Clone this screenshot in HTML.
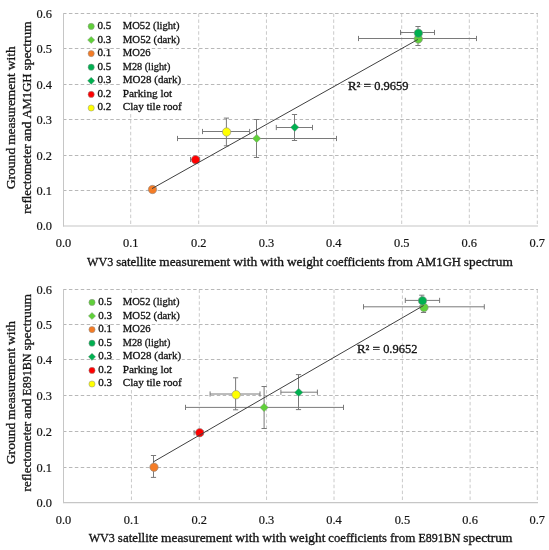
<!DOCTYPE html>
<html><head><meta charset="utf-8"><title>Chart</title>
<style>html,body{margin:0;padding:0;background:#fff;}svg{display:block;}</style></head>
<body><svg width="549" height="550" viewBox="0 0 549 550" font-family="'Liberation Serif', 'DejaVu Serif', serif">
<style>text{fill:#141414;stroke:#141414;stroke-width:0.32px;}text.tk{stroke-width:0.2px;}</style>
<rect width="549" height="550" fill="#fff"/>
<line x1="130.7" y1="13.5" x2="130.7" y2="226" stroke="#cacaca" stroke-dasharray="3.5 2.415"/>
<line x1="198.7" y1="13.5" x2="198.7" y2="226" stroke="#cacaca" stroke-dasharray="3.5 2.415"/>
<line x1="266.45" y1="13.5" x2="266.45" y2="226" stroke="#cacaca" stroke-dasharray="3.5 2.415"/>
<line x1="333.7" y1="13.5" x2="333.7" y2="226" stroke="#cacaca" stroke-dasharray="3.5 2.415"/>
<line x1="401.7" y1="13.5" x2="401.7" y2="226" stroke="#cacaca" stroke-dasharray="3.5 2.415"/>
<line x1="469.3" y1="13.5" x2="469.3" y2="226" stroke="#cacaca" stroke-dasharray="3.5 2.415"/>
<line x1="537.3" y1="13.5" x2="537.3" y2="226" stroke="#cacaca" stroke-dasharray="3.5 2.415"/>
<line x1="63" y1="190.5" x2="538" y2="190.5" stroke="#b8b8b8" stroke-dasharray="3.5 2.415"/>
<line x1="63" y1="155.5" x2="538" y2="155.5" stroke="#b8b8b8" stroke-dasharray="3.5 2.415"/>
<line x1="63" y1="119.5" x2="538" y2="119.5" stroke="#b8b8b8" stroke-dasharray="3.5 2.415"/>
<line x1="63" y1="84.5" x2="538" y2="84.5" stroke="#b8b8b8" stroke-dasharray="3.5 2.415"/>
<line x1="63" y1="48.5" x2="538" y2="48.5" stroke="#b8b8b8" stroke-dasharray="3.5 2.415"/>
<line x1="63" y1="13.5" x2="538" y2="13.5" stroke="#b8b8b8" stroke-dasharray="3.5 2.415"/>
<line x1="63.5" y1="13" x2="63.5" y2="226.5" stroke="#c6c6c6"/>
<line x1="63" y1="226" x2="538" y2="226" stroke="#c6c6c6" stroke-width="1.15"/>
<text x="52" y="230.1" text-anchor="end" class="tk" font-size="12.4">0.0</text>
<text x="52" y="194.6" text-anchor="end" class="tk" font-size="12.4">0.1</text>
<text x="52" y="159.6" text-anchor="end" class="tk" font-size="12.4">0.2</text>
<text x="52" y="123.6" text-anchor="end" class="tk" font-size="12.4">0.3</text>
<text x="52" y="88.6" text-anchor="end" class="tk" font-size="12.4">0.4</text>
<text x="52" y="52.6" text-anchor="end" class="tk" font-size="12.4">0.5</text>
<text x="52" y="17.6" text-anchor="end" class="tk" font-size="12.4">0.6</text>
<text x="63.5" y="246.7" text-anchor="middle" class="tk" font-size="12.4">0.0</text>
<text x="130.7" y="246.7" text-anchor="middle" class="tk" font-size="12.4">0.1</text>
<text x="198.7" y="246.7" text-anchor="middle" class="tk" font-size="12.4">0.2</text>
<text x="266.45" y="246.7" text-anchor="middle" class="tk" font-size="12.4">0.3</text>
<text x="333.7" y="246.7" text-anchor="middle" class="tk" font-size="12.4">0.4</text>
<text x="401.7" y="246.7" text-anchor="middle" class="tk" font-size="12.4">0.5</text>
<text x="469.3" y="246.7" text-anchor="middle" class="tk" font-size="12.4">0.6</text>
<text x="537.3" y="246.7" text-anchor="middle" class="tk" font-size="12.4">0.7</text>
<text x="87.1" y="265.8" font-size="12.8" textLength="26.17" lengthAdjust="spacingAndGlyphs">WV3</text>
<text x="116.21" y="265.8" font-size="12.8" textLength="40.12" lengthAdjust="spacingAndGlyphs">satellite</text>
<text x="159.28" y="265.8" font-size="12.8" textLength="71.05" lengthAdjust="spacingAndGlyphs">measurement</text>
<text x="233.27" y="265.8" font-size="12.8" textLength="23.94" lengthAdjust="spacingAndGlyphs">with</text>
<text x="260.15" y="265.8" font-size="12.8" textLength="23.94" lengthAdjust="spacingAndGlyphs">with</text>
<text x="287.04" y="265.8" font-size="12.8" textLength="36.13" lengthAdjust="spacingAndGlyphs">weight</text>
<text x="326.11" y="265.8" font-size="12.8" textLength="58.55" lengthAdjust="spacingAndGlyphs">coefficients</text>
<text x="387.61" y="265.8" font-size="12.8" textLength="25.4" lengthAdjust="spacingAndGlyphs">from</text>
<text x="415.95" y="265.8" font-size="12.8" textLength="44.97" lengthAdjust="spacingAndGlyphs">AM1GH</text>
<text x="463.87" y="265.8" font-size="12.8" textLength="48.93" lengthAdjust="spacingAndGlyphs">spectrum</text>
<text transform="translate(15.2,189.3) rotate(-90)" x="0" font-size="12.8" textLength="41.51" lengthAdjust="spacingAndGlyphs">Ground</text>
<text transform="translate(15.2,189.3) rotate(-90)" x="44.47" font-size="12.8" textLength="71.55" lengthAdjust="spacingAndGlyphs">measurement</text>
<text transform="translate(15.2,189.3) rotate(-90)" x="118.99" font-size="12.8" textLength="24.11" lengthAdjust="spacingAndGlyphs">with</text>
<text transform="translate(31.4,213.7) rotate(-90)" x="0" font-size="12.8" textLength="69.19" lengthAdjust="spacingAndGlyphs">reflectometer</text>
<text transform="translate(31.4,213.7) rotate(-90)" x="72.15" font-size="12.8" textLength="20.01" lengthAdjust="spacingAndGlyphs">and</text>
<text transform="translate(31.4,213.7) rotate(-90)" x="95.11" font-size="12.8" textLength="45.13" lengthAdjust="spacingAndGlyphs">AM1GH</text>
<text transform="translate(31.4,213.7) rotate(-90)" x="143.2" font-size="12.8" textLength="49.1" lengthAdjust="spacingAndGlyphs">spectrum</text>
<circle cx="91.2" cy="26.4" r="3.1" fill="#60d03a" stroke="#8c8c8c" stroke-width="0.5"/>
<text x="97.4" y="29" font-size="11.2" textLength="13.8" lengthAdjust="spacingAndGlyphs">0.5</text>
<rect x="120.5" y="19.2" width="59.7" height="13.5" fill="#fff"/>
<path d="M91.2 36.4L94.8 40L91.2 43.6L87.6 40Z" fill="#60d03a" stroke="#8c8c8c" stroke-width="0.4"/>
<text x="97.4" y="42.5" font-size="11.2" textLength="13.8" lengthAdjust="spacingAndGlyphs">0.3</text>
<rect x="120.5" y="32.7" width="60" height="13.5" fill="#fff"/>
<circle cx="91.2" cy="53.6" r="3.1" fill="#f47c26" stroke="#8c8c8c" stroke-width="0.5"/>
<text x="97.4" y="56" font-size="11.2" textLength="13.8" lengthAdjust="spacingAndGlyphs">0.1</text>
<rect x="120.5" y="46.2" width="30.6" height="13.5" fill="#fff"/>
<circle cx="91.2" cy="67.2" r="3.1" fill="#00b050" stroke="#8c8c8c" stroke-width="0.5"/>
<text x="97.4" y="69.5" font-size="11.2" textLength="13.8" lengthAdjust="spacingAndGlyphs">0.5</text>
<rect x="120.5" y="59.7" width="50.4" height="13.5" fill="#fff"/>
<path d="M91.2 77.2L94.8 80.8L91.2 84.4L87.6 80.8Z" fill="#00b050" stroke="#8c8c8c" stroke-width="0.4"/>
<text x="97.4" y="83" font-size="11.2" textLength="13.8" lengthAdjust="spacingAndGlyphs">0.3</text>
<rect x="120.5" y="73.2" width="61.2" height="13.5" fill="#fff"/>
<circle cx="91.2" cy="94.4" r="3.1" fill="#ff0000" stroke="#8c8c8c" stroke-width="0.5"/>
<text x="97.4" y="96.5" font-size="11.2" textLength="13.8" lengthAdjust="spacingAndGlyphs">0.2</text>
<rect x="120.5" y="86.7" width="52.3" height="13.5" fill="#fff"/>
<circle cx="91.2" cy="108" r="3.1" fill="#ffff00" stroke="#8c8c8c" stroke-width="0.5"/>
<text x="97.4" y="110" font-size="11.2" textLength="13.8" lengthAdjust="spacingAndGlyphs">0.2</text>
<rect x="120.5" y="100.2" width="61.9" height="13.5" fill="#fff"/>
<text x="122.8" y="29" font-size="11.2" textLength="56.8" lengthAdjust="spacingAndGlyphs">MO52 (light)</text>
<text x="122.8" y="42.5" font-size="11.2" textLength="57.1" lengthAdjust="spacingAndGlyphs">MO52 (dark)</text>
<text x="122.8" y="56" font-size="11.2" textLength="27.7" lengthAdjust="spacingAndGlyphs">MO26</text>
<text x="122.8" y="69.5" font-size="11.2" textLength="47.5" lengthAdjust="spacingAndGlyphs">M28 (light)</text>
<text x="122.8" y="83" font-size="11.2" textLength="58.3" lengthAdjust="spacingAndGlyphs">MO28 (dark)</text>
<text x="122.8" y="96.5" font-size="11.2" textLength="49.4" lengthAdjust="spacingAndGlyphs">Parking lot</text>
<text x="122.8" y="110" font-size="11.2" textLength="59" lengthAdjust="spacingAndGlyphs">Clay tile roof</text>
<path d="M358.5 38.5H476.5M358.5 35.9V41.1M476.5 35.9V41.1M418 32.5V45.5M415.4 32.5H420.6M415.4 45.5H420.6" stroke="#7a7a7a" fill="none"/>
<path d="M177.5 138.5H336.5M177.5 135.9V141.1M336.5 135.9V141.1M256.5 119.5V157.5M253.9 119.5H259.1M253.9 157.5H259.1" stroke="#7a7a7a" fill="none"/>
<path d="M400.5 32.5H434.5M400.5 29.9V35.1M434.5 29.9V35.1M418 26.5V40M415.4 26.5H420.6M415.4 40H420.6" stroke="#7a7a7a" fill="none"/>
<path d="M276.3 127.5H312.5M276.3 124.9V130.1M312.5 124.9V130.1M294.5 114.5V140.5M291.9 114.5H297.1M291.9 140.5H297.1" stroke="#7a7a7a" fill="none"/>
<path d="M190.5 159.5H199.6M190.5 156.9V162.1M199.6 156.9V162.1" stroke="#7a7a7a" fill="none"/>
<path d="M202.5 131.5H249.6M202.5 128.9V134.1M249.6 128.9V134.1M226.4 118.1V145.8M223.8 118.1H229M223.8 145.8H229" stroke="#7a7a7a" fill="none"/>
<circle cx="418.3" cy="39" r="4.2" fill="#60d03a" stroke="#8c8c8c" stroke-width="0.6"/>
<path d="M256.65 134.25L260.85 138.45L256.65 142.65L252.45 138.45Z" fill="#60d03a" stroke="#8c8c8c" stroke-width="0.4"/>
<circle cx="152.5" cy="189.5" r="4.2" fill="#f47c26" stroke="#8c8c8c" stroke-width="0.6"/>
<circle cx="418.4" cy="33.2" r="4.2" fill="#00b050" stroke="#8c8c8c" stroke-width="0.6"/>
<path d="M294.75 123.15L298.95 127.35L294.75 131.55L290.55 127.35Z" fill="#00b050" stroke="#8c8c8c" stroke-width="0.4"/>
<circle cx="195.55" cy="159.7" r="4.2" fill="#ff0000" stroke="#8c8c8c" stroke-width="0.6"/>
<circle cx="226.6" cy="132" r="4.2" fill="#ffff00" stroke="#8c8c8c" stroke-width="0.6"/>
<line x1="152" y1="188.6" x2="417.8" y2="39.5" stroke="#404040" stroke-width="1"/>
<text x="348" y="89.6" font-size="12.8" textLength="12.38" lengthAdjust="spacingAndGlyphs">R²</text>
<text x="363.5" y="89.6" font-size="12.8" textLength="7.56" lengthAdjust="spacingAndGlyphs">=</text>
<text x="374.18" y="89.6" font-size="12.8" textLength="34.32" lengthAdjust="spacingAndGlyphs">0.9659</text>
<line x1="131.45" y1="289.5" x2="131.45" y2="502.6" stroke="#cacaca" stroke-dasharray="3.5 2.415"/>
<line x1="199.3" y1="289.5" x2="199.3" y2="502.6" stroke="#cacaca" stroke-dasharray="3.5 2.415"/>
<line x1="266.55" y1="289.5" x2="266.55" y2="502.6" stroke="#cacaca" stroke-dasharray="3.5 2.415"/>
<line x1="334" y1="289.5" x2="334" y2="502.6" stroke="#cacaca" stroke-dasharray="3.5 2.415"/>
<line x1="402.4" y1="289.5" x2="402.4" y2="502.6" stroke="#cacaca" stroke-dasharray="3.5 2.415"/>
<line x1="470.1" y1="289.5" x2="470.1" y2="502.6" stroke="#cacaca" stroke-dasharray="3.5 2.415"/>
<line x1="537.3" y1="289.5" x2="537.3" y2="502.6" stroke="#cacaca" stroke-dasharray="3.5 2.415"/>
<line x1="63" y1="467.5" x2="538" y2="467.5" stroke="#b8b8b8" stroke-dasharray="3.5 2.415"/>
<line x1="63" y1="431.5" x2="538" y2="431.5" stroke="#b8b8b8" stroke-dasharray="3.5 2.415"/>
<line x1="63" y1="395.5" x2="538" y2="395.5" stroke="#b8b8b8" stroke-dasharray="3.5 2.415"/>
<line x1="63" y1="359.5" x2="538" y2="359.5" stroke="#b8b8b8" stroke-dasharray="3.5 2.415"/>
<line x1="63" y1="324.5" x2="538" y2="324.5" stroke="#b8b8b8" stroke-dasharray="3.5 2.415"/>
<line x1="63" y1="289.5" x2="538" y2="289.5" stroke="#b8b8b8" stroke-dasharray="3.5 2.415"/>
<line x1="63.5" y1="289" x2="63.5" y2="503.1" stroke="#c6c6c6"/>
<line x1="63" y1="502.6" x2="538" y2="502.6" stroke="#c6c6c6" stroke-width="1.15"/>
<text x="52" y="506.7" text-anchor="end" class="tk" font-size="12.4">0.0</text>
<text x="52" y="471.6" text-anchor="end" class="tk" font-size="12.4">0.1</text>
<text x="52" y="435.6" text-anchor="end" class="tk" font-size="12.4">0.2</text>
<text x="52" y="399.6" text-anchor="end" class="tk" font-size="12.4">0.3</text>
<text x="52" y="363.6" text-anchor="end" class="tk" font-size="12.4">0.4</text>
<text x="52" y="328.6" text-anchor="end" class="tk" font-size="12.4">0.5</text>
<text x="52" y="293.6" text-anchor="end" class="tk" font-size="12.4">0.6</text>
<text x="63.5" y="523.8" text-anchor="middle" class="tk" font-size="12.4">0.0</text>
<text x="131.45" y="523.8" text-anchor="middle" class="tk" font-size="12.4">0.1</text>
<text x="199.3" y="523.8" text-anchor="middle" class="tk" font-size="12.4">0.2</text>
<text x="266.55" y="523.8" text-anchor="middle" class="tk" font-size="12.4">0.3</text>
<text x="334" y="523.8" text-anchor="middle" class="tk" font-size="12.4">0.4</text>
<text x="402.4" y="523.8" text-anchor="middle" class="tk" font-size="12.4">0.5</text>
<text x="470.1" y="523.8" text-anchor="middle" class="tk" font-size="12.4">0.6</text>
<text x="537.3" y="523.8" text-anchor="middle" class="tk" font-size="12.4">0.7</text>
<text x="88.7" y="542.3" font-size="12.8" textLength="26.24" lengthAdjust="spacingAndGlyphs">WV3</text>
<text x="117.89" y="542.3" font-size="12.8" textLength="40.23" lengthAdjust="spacingAndGlyphs">satellite</text>
<text x="161.07" y="542.3" font-size="12.8" textLength="71.24" lengthAdjust="spacingAndGlyphs">measurement</text>
<text x="235.26" y="542.3" font-size="12.8" textLength="24.01" lengthAdjust="spacingAndGlyphs">with</text>
<text x="262.22" y="542.3" font-size="12.8" textLength="24.01" lengthAdjust="spacingAndGlyphs">with</text>
<text x="289.17" y="542.3" font-size="12.8" textLength="36.23" lengthAdjust="spacingAndGlyphs">weight</text>
<text x="328.35" y="542.3" font-size="12.8" textLength="58.71" lengthAdjust="spacingAndGlyphs">coefficients</text>
<text x="390.01" y="542.3" font-size="12.8" textLength="25.47" lengthAdjust="spacingAndGlyphs">from</text>
<text x="418.43" y="542.3" font-size="12.8" textLength="41.95" lengthAdjust="spacingAndGlyphs">E891BN</text>
<text x="463.34" y="542.3" font-size="12.8" textLength="49.06" lengthAdjust="spacingAndGlyphs">spectrum</text>
<text transform="translate(15.2,464.2) rotate(-90)" x="0" font-size="12.8" textLength="41.57" lengthAdjust="spacingAndGlyphs">Ground</text>
<text transform="translate(15.2,464.2) rotate(-90)" x="44.54" font-size="12.8" textLength="71.65" lengthAdjust="spacingAndGlyphs">measurement</text>
<text transform="translate(15.2,464.2) rotate(-90)" x="119.16" font-size="12.8" textLength="24.14" lengthAdjust="spacingAndGlyphs">with</text>
<text transform="translate(31.4,491.4) rotate(-90)" x="0" font-size="12.8" textLength="69.62" lengthAdjust="spacingAndGlyphs">reflectometer</text>
<text transform="translate(31.4,491.4) rotate(-90)" x="72.6" font-size="12.8" textLength="20.13" lengthAdjust="spacingAndGlyphs">and</text>
<text transform="translate(31.4,491.4) rotate(-90)" x="95.7" font-size="12.8" textLength="42.25" lengthAdjust="spacingAndGlyphs">E891BN</text>
<text transform="translate(31.4,491.4) rotate(-90)" x="140.92" font-size="12.8" textLength="56.58" lengthAdjust="spacingAndGlyphs">spectruum</text>
<circle cx="92" cy="302.4" r="3.1" fill="#60d03a" stroke="#8c8c8c" stroke-width="0.5"/>
<text x="98.2" y="305" font-size="11.2" textLength="13.8" lengthAdjust="spacingAndGlyphs">0.5</text>
<rect x="120.5" y="295.2" width="59.7" height="13.5" fill="#fff"/>
<path d="M92 312.4L95.6 316L92 319.6L88.4 316Z" fill="#60d03a" stroke="#8c8c8c" stroke-width="0.4"/>
<text x="98.2" y="318.5" font-size="11.2" textLength="13.8" lengthAdjust="spacingAndGlyphs">0.3</text>
<rect x="120.5" y="308.7" width="60" height="13.5" fill="#fff"/>
<circle cx="92" cy="329.6" r="3.1" fill="#f47c26" stroke="#8c8c8c" stroke-width="0.5"/>
<text x="98.2" y="332" font-size="11.2" textLength="13.8" lengthAdjust="spacingAndGlyphs">0.1</text>
<rect x="120.5" y="322.2" width="30.6" height="13.5" fill="#fff"/>
<circle cx="92" cy="343.2" r="3.1" fill="#00b050" stroke="#8c8c8c" stroke-width="0.5"/>
<text x="98.2" y="345.5" font-size="11.2" textLength="13.8" lengthAdjust="spacingAndGlyphs">0.5</text>
<rect x="120.5" y="335.7" width="50.4" height="13.5" fill="#fff"/>
<path d="M92 353.2L95.6 356.8L92 360.4L88.4 356.8Z" fill="#00b050" stroke="#8c8c8c" stroke-width="0.4"/>
<text x="98.2" y="359" font-size="11.2" textLength="13.8" lengthAdjust="spacingAndGlyphs">0.3</text>
<rect x="120.5" y="349.2" width="61.2" height="13.5" fill="#fff"/>
<circle cx="92" cy="370.4" r="3.1" fill="#ff0000" stroke="#8c8c8c" stroke-width="0.5"/>
<text x="98.2" y="372.5" font-size="11.2" textLength="13.8" lengthAdjust="spacingAndGlyphs">0.2</text>
<rect x="120.5" y="362.7" width="52.3" height="13.5" fill="#fff"/>
<circle cx="92" cy="384" r="3.1" fill="#ffff00" stroke="#8c8c8c" stroke-width="0.5"/>
<text x="98.2" y="386" font-size="11.2" textLength="13.8" lengthAdjust="spacingAndGlyphs">0.3</text>
<rect x="120.5" y="376.2" width="61.9" height="13.5" fill="#fff"/>
<text x="122.8" y="305" font-size="11.2" textLength="56.8" lengthAdjust="spacingAndGlyphs">MO52 (light)</text>
<text x="122.8" y="318.5" font-size="11.2" textLength="57.1" lengthAdjust="spacingAndGlyphs">MO52 (dark)</text>
<text x="122.8" y="332" font-size="11.2" textLength="27.7" lengthAdjust="spacingAndGlyphs">MO26</text>
<text x="122.8" y="345.5" font-size="11.2" textLength="47.5" lengthAdjust="spacingAndGlyphs">M28 (light)</text>
<text x="122.8" y="359" font-size="11.2" textLength="58.3" lengthAdjust="spacingAndGlyphs">MO28 (dark)</text>
<text x="122.8" y="372.5" font-size="11.2" textLength="49.4" lengthAdjust="spacingAndGlyphs">Parking lot</text>
<text x="122.8" y="386" font-size="11.2" textLength="59" lengthAdjust="spacingAndGlyphs">Clay tile roof</text>
<path d="M363.5 306.8H484.3M363.5 304.2V309.4M484.3 304.2V309.4M423.5 302V312.5M420.9 302H426.1M420.9 312.5H426.1" stroke="#7a7a7a" fill="none"/>
<path d="M185.5 407.4H343.5M185.5 404.8V410M343.5 404.8V410M264.1 386.5V428.5M261.5 386.5H266.7M261.5 428.5H266.7" stroke="#7a7a7a" fill="none"/>
<path d="M153.5 455.5V477.4M150.9 455.5H156.1M150.9 477.4H156.1" stroke="#7a7a7a" fill="none"/>
<path d="M405.3 300.4H439.6M405.3 297.8V303M439.6 297.8V303M421.8 295.2V306M419.2 295.2H424.4M419.2 306H424.4" stroke="#7a7a7a" fill="none"/>
<path d="M280.9 392.2H317.4M280.9 389.6V394.8M317.4 389.6V394.8M298.5 374.6V409.6M295.9 374.6H301.1M295.9 409.6H301.1" stroke="#7a7a7a" fill="none"/>
<path d="M194.1 432.7H203M194.1 430.1V435.3M203 430.1V435.3" stroke="#7a7a7a" fill="none"/>
<path d="M210.1 394H260M210.1 391.4V396.6M260 391.4V396.6M235.6 377.8V409.8M233 377.8H238.2M233 409.8H238.2" stroke="#7a7a7a" fill="none"/>
<circle cx="424" cy="307.5" r="4.2" fill="#60d03a" stroke="#8c8c8c" stroke-width="0.6"/>
<path d="M264.1 403.25L268.3 407.45L264.1 411.65L259.9 407.45Z" fill="#60d03a" stroke="#8c8c8c" stroke-width="0.4"/>
<circle cx="154" cy="467.2" r="4.2" fill="#f47c26" stroke="#8c8c8c" stroke-width="0.6"/>
<circle cx="422.5" cy="300.8" r="4.2" fill="#00b050" stroke="#8c8c8c" stroke-width="0.6"/>
<path d="M298.7 388.2L302.9 392.4L298.7 396.6L294.5 392.4Z" fill="#00b050" stroke="#8c8c8c" stroke-width="0.4"/>
<circle cx="199.7" cy="432.7" r="4.2" fill="#ff0000" stroke="#8c8c8c" stroke-width="0.6"/>
<circle cx="236.1" cy="394.75" r="4.2" fill="#ffff00" stroke="#8c8c8c" stroke-width="0.6"/>
<line x1="153.3" y1="461.9" x2="423.6" y2="305.5" stroke="#404040" stroke-width="1"/>
<text x="357" y="353.2" font-size="12.8" textLength="12.36" lengthAdjust="spacingAndGlyphs">R²</text>
<text x="372.47" y="353.2" font-size="12.8" textLength="7.55" lengthAdjust="spacingAndGlyphs">=</text>
<text x="383.14" y="353.2" font-size="12.8" textLength="34.26" lengthAdjust="spacingAndGlyphs">0.9652</text>
</svg></body></html>
